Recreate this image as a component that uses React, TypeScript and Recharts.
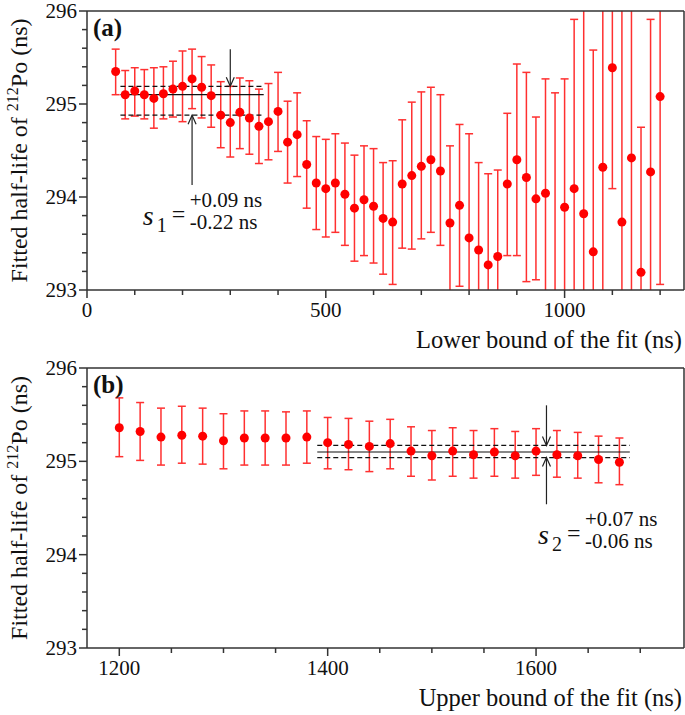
import React from 'react';
import { ScatterChart, Scatter, XAxis, YAxis, ReferenceLine, ReferenceDot } from 'recharts';

const FONT = '"Liberation Serif", "DejaVu Serif", serif';
const AXIS = '#333';
const INK = '#111';
const RED = '#ff0000';
const BAR = '#ff3030';

// (a) fit window lower bound (ns)
const lowerBound = [
  60, 80, 100, 120, 140, 160, 180, 200, 220, 240,
  260, 280, 300, 320, 340, 360, 380, 400, 420, 440,
  460, 480, 500, 520, 540, 560, 580, 600, 620, 640,
  660, 680, 700, 720, 740, 760, 780, 800, 820, 840,
  860, 880, 900, 920, 940, 960, 980, 1000, 1020, 1040,
  1060, 1080, 1100, 1120, 1140, 1160, 1180, 1200,
];
const halfLifeA = [
  295.35, 295.10, 295.14, 295.10, 295.06, 295.11, 295.16, 295.19, 295.27, 295.18,
  295.09, 294.88, 294.80, 294.91, 294.85, 294.76, 294.81, 294.92, 294.59, 294.67,
  294.35, 294.15, 294.09, 294.15, 294.03, 293.88, 293.97, 293.90, 293.77, 293.73,
  294.14, 294.23, 294.33, 294.40, 294.28, 293.72, 293.91, 293.56, 293.43, 293.27,
  293.36, 294.14, 294.40, 294.21, 293.98, 294.04, 292.90, 293.89, 294.09, 293.82,
  293.41, 294.32, 295.39, 293.73, 294.42, 293.19, 294.27, 295.08,
];
const errUpA = [
  0.24, 0.26, 0.25, 0.27, 0.33, 0.29, 0.30, 0.38, 0.32, 0.33,
  0.33, 0.36, 0.39, 0.37, 0.40, 0.40, 0.41, 0.42, 0.44, 0.45,
  0.47, 0.50, 0.53, 0.53, 0.55, 0.57, 0.58, 0.62, 0.60, 0.66,
  0.69, 0.79, 0.80, 0.78, 0.82, 0.83, 0.87, 1.12, 0.94, 0.98,
  0.93, 0.76, 1.03, 1.13, 0.88, 1.23, 2.22, 1.38, 1.82, 2.20,
  2.17, 1.90, 1.30, 2.40, 1.90, 1.56, 1.64, 2.02,
];
const errDownA = [
  0.25, 0.26, 0.27, 0.26, 0.32, 0.27, 0.30, 0.38, 0.32, 0.33,
  0.34, 0.35, 0.37, 0.39, 0.39, 0.40, 0.41, 0.43, 0.44, 0.45,
  0.47, 0.50, 0.52, 0.53, 0.55, 0.57, 0.60, 0.61, 0.60, 0.67,
  0.69, 0.79, 0.78, 0.78, 0.80, 0.83, 0.87, 1.12, 0.94, 0.98,
  0.93, 0.77, 1.03, 1.12, 0.87, 1.23, 2.22, 1.38, 1.82, 2.20,
  2.17, 1.90, 1.30, 2.40, 1.90, 1.56, 1.64, 2.02,
];

// (b) fit window upper bound (ns)
const upperBound = [
  1200, 1220, 1240, 1260, 1280, 1300, 1320, 1340, 1360, 1380,
  1400, 1420, 1440, 1460, 1480, 1500, 1520, 1540, 1560, 1580,
  1600, 1620, 1640, 1660, 1680,
];
const halfLifeB = [
  295.36, 295.32, 295.26, 295.28, 295.27, 295.22, 295.25, 295.25, 295.25, 295.26,
  295.20, 295.18, 295.16, 295.19, 295.11, 295.06, 295.11, 295.07, 295.10, 295.06,
  295.11, 295.07, 295.06, 295.02, 294.99,
];
const errUpB = [
  0.32, 0.31, 0.31, 0.31, 0.30, 0.29, 0.29, 0.29, 0.28, 0.28,
  0.27, 0.28, 0.27, 0.26, 0.26, 0.27, 0.25, 0.26, 0.25, 0.26,
  0.24, 0.26, 0.25, 0.25, 0.26,
];
const errDownB = [
  0.31, 0.31, 0.30, 0.30, 0.30, 0.30, 0.29, 0.29, 0.29, 0.28,
  0.28, 0.27, 0.27, 0.27, 0.27, 0.26, 0.27, 0.25, 0.26, 0.24,
  0.26, 0.24, 0.24, 0.25, 0.24,
];

const yTicks = [293, 293.2, 293.4, 293.6, 293.8, 294, 294.2, 294.4, 294.6, 294.8, 295, 295.2, 295.4, 295.6, 295.8, 296];
const xTicksA = [0, 100, 200, 300, 400, 500, 600, 700, 800, 900, 1000, 1100, 1200];
const xMajorA = [0, 500, 1000];
const xTicksB = [1200, 1250, 1300, 1350, 1400, 1450, 1500, 1550, 1600, 1650, 1700];
const xMajorB = [1200, 1400, 1600];

// systematic bands: mean, +s, -s, window of the line, arrow positions, label anchor
const fitA = { mean: 295.10, plus: 0.09, minus: 0.22, from: 70, to: 370, downAt: 300, downFrom: 295.59, upAt: 220, upFrom: 294.13, label: [116.6, 293.70] };
const fitB = { mean: 295.10, plus: 0.07, minus: 0.06, from: 1390, to: 1690, downAt: 1610, downFrom: 295.60, upAt: 1610, upFrom: 294.54, label: [1601.9, 294.11] };

const rows = (xs: number[], ys: number[], dn: number[], up: number[]) =>
  xs.map((x, i) => ({ x, y: ys[i], lo: ys[i] - dn[i], hi: ys[i] + up[i] }));

const dataA = rows(lowerBound, halfLifeA, errDownA, errUpA);
const dataB = rows(upperBound, halfLifeB, errDownB, errUpB);

const txt = { fontFamily: FONT, fill: INK } as const;

const makeXTick = (majors: number[]) => (props: any) => {
  const { x, y, payload } = props;
  const major = majors.includes(payload.value);
  return (
    <g>
      <line x1={x} x2={x} y1={y} y2={y + (major ? 8 : 5)} stroke={AXIS} strokeWidth={1.5} />
      {major && (
        <text x={x} y={y + 27} textAnchor="middle" fontSize={21} style={txt}>
          {payload.value}
        </text>
      )}
    </g>
  );
};

const YTick = (props: any) => {
  const { x, y, payload } = props;
  const major = Number.isInteger(payload.value);
  return (
    <g>
      <line x1={x} x2={x - (major ? 8 : 5)} y1={y} y2={y} stroke={AXIS} strokeWidth={1.5} />
      {major && (
        <text x={x - 10} y={y + 7} textAnchor="end" fontSize={21} style={txt}>
          {payload.value}
        </text>
      )}
    </g>
  );
};

const yTitle = (tag: string) => (props: any) => {
  const vb = props.viewBox;
  const cx = vb.x + 27;
  const cy = vb.y + vb.height / 2;
  return (
    <g>
      <text transform={`rotate(-90, ${cx}, ${cy})`} x={cx} y={cy} textAnchor="middle" fontSize={24} style={txt}>
        {'Fitted half-life of '}
        <tspan dy={-9} fontSize={16}>212</tspan>
        <tspan dy={9}>Po (ns)</tspan>
      </text>
      <text x={vb.x + vb.width + 6} y={vb.y + 25} fontSize={25} fontWeight="bold" style={txt}>
        {tag}
      </text>
    </g>
  );
};

const xTitle = (title: string) => (props: any) => {
  const vb = props.viewBox;
  return (
    <text x={vb.x + vb.width - 2} y={vb.y + 58} textAnchor="end" fontSize={24.5} style={txt}>
      {title}
    </text>
  );
};

const dotShape = (p: any) => <circle cx={p.cx} cy={p.cy} r={4.5} fill={RED} />;

// vertical error bar with caps; the reference line hands over the plot clip path
const ErrShape = (props: any) => {
  const { x1, y1, x2, y2, clipPath } = props;
  return (
    <g stroke={BAR} strokeWidth={1.5} clipPath={clipPath}>
      <line x1={x1} y1={y1} x2={x2} y2={y2} />
      <line x1={x1 - 4} y1={y1} x2={x1 + 4} y2={y1} />
      <line x1={x2 - 4} y1={y2} x2={x2 + 4} y2={y2} />
    </g>
  );
};

const Arrow = (props: any) => {
  const { x1, y1, x2, y2 } = props;
  const a = Math.atan2(y2 - y1, x2 - x1);
  const len = 9;
  const half = 4;
  const bx = x2 - len * Math.cos(a);
  const by = y2 - len * Math.sin(a);
  const px = -Math.sin(a) * half;
  const py = Math.cos(a) * half;
  return (
    <g>
      <line x1={x1} y1={y1} x2={x2} y2={y2} stroke="#222" strokeWidth={1.2} />
      <polyline points={`${bx + px},${by + py} ${x2},${y2} ${bx - px},${by - py}`} fill="none" stroke="#222" strokeWidth={1.2} />
    </g>
  );
};

const sigmaLabel = (sub: string, plus: number, minus: number) => (p: any) => {
  const { cx, cy } = p;
  return (
    <g style={txt}>
      <text x={cx} y={cy} fontSize={28} fontStyle="italic" style={txt}>s</text>
      <text x={cx + 14} y={cy + 7} fontSize={20} style={txt}>{sub}</text>
      <text x={cx + 29} y={cy - 3} fontSize={24} style={txt}>=</text>
      <text x={cx + 47} y={cy - 18} fontSize={21} style={txt}>{`+${plus.toFixed(2)} ns`}</text>
      <text x={cx + 47} y={cy + 4} fontSize={21} style={txt}>{`-${minus.toFixed(2)} ns`}</text>
    </g>
  );
};

const fitLines = (fit: typeof fitA) => [
  <ReferenceLine key="m" segment={[{ x: fit.from, y: fit.mean }, { x: fit.to, y: fit.mean }]} stroke={INK} strokeWidth={1.2} />,
  <ReferenceLine key="p" segment={[{ x: fit.from, y: fit.mean + fit.plus }, { x: fit.to, y: fit.mean + fit.plus }]} stroke={INK} strokeWidth={1.3} strokeDasharray="5 3" />,
  <ReferenceLine key="n" segment={[{ x: fit.from, y: fit.mean - fit.minus }, { x: fit.to, y: fit.mean - fit.minus }]} stroke={INK} strokeWidth={1.3} strokeDasharray="5 3" />,
  <ReferenceLine key="ad" segment={[{ x: fit.downAt, y: fit.downFrom }, { x: fit.downAt, y: fit.mean + fit.plus }]} shape={Arrow} />,
  <ReferenceLine key="au" segment={[{ x: fit.upAt, y: fit.upFrom }, { x: fit.upAt, y: fit.mean - fit.minus }]} shape={Arrow} />,
];

interface PanelProps {
  data: typeof dataA;
  domain: [number, number];
  ticks: number[];
  majors: number[];
  fit: typeof fitA;
  tag: string;
  sub: string;
  title: string;
  height: number;
  top: number;
  bottom: number;
}

const Panel: React.FC<PanelProps> = ({ data, domain, ticks, majors, fit, tag, sub, title, height, top, bottom }) => (
  <ScatterChart width={685} height={height} margin={{ top, right: 1, bottom: 0, left: 0 }} style={{ fontFamily: FONT }}>
    <XAxis
      type="number"
      dataKey="x"
      domain={domain}
      allowDataOverflow
      ticks={ticks}
      interval={0}
      tickSize={0}
      tickMargin={0}
      tickLine={false}
      tick={makeXTick(majors)}
      axisLine={{ stroke: AXIS, strokeWidth: 1.5 }}
      height={bottom}
      label={{ content: xTitle(title) }}
    />
    <YAxis
      type="number"
      dataKey="y"
      domain={[293, 296]}
      allowDataOverflow
      ticks={yTicks}
      interval={0}
      tickSize={0}
      tickMargin={0}
      tickLine={false}
      tick={YTick}
      axisLine={{ stroke: AXIS, strokeWidth: 1.5 }}
      width={87}
      label={{ content: yTitle(tag) }}
    />
    {data.map((d) => (
      <ReferenceLine key={`e${d.x}`} segment={[{ x: d.x, y: d.lo }, { x: d.x, y: d.hi }]} ifOverflow="hidden" shape={ErrShape} />
    ))}
    {fitLines(fit)}
    <ReferenceLine y={296} stroke={AXIS} strokeWidth={1.5} />
    <ReferenceLine x={domain[1]} stroke={AXIS} strokeWidth={1.5} />
    <ReferenceDot x={fit.label[0]} y={fit.label[1]} r={0} shape={sigmaLabel(sub, fit.plus, fit.minus)} />
    <Scatter data={data} isAnimationActive={false} shape={dotShape} />
  </ScatterChart>
);

export default function App() {
  return (
    <div style={{ position: 'absolute', left: 0, top: 0, width: 685, height: 715, background: '#fff', fontFamily: FONT }}>
      <Panel data={dataA} domain={[0, 1250]} ticks={xTicksA} majors={xMajorA} fit={fitA} tag="(a)" sub="1"
        title="Lower bound of the fit (ns)" height={355} top={11} bottom={65} />
      <Panel data={dataB} domain={[1169, 1742]} ticks={xTicksB} majors={xMajorB} fit={fitB} tag="(b)" sub="2"
        title="Upper bound of the fit (ns)" height={360} top={13} bottom={67} />
    </div>
  );
}
